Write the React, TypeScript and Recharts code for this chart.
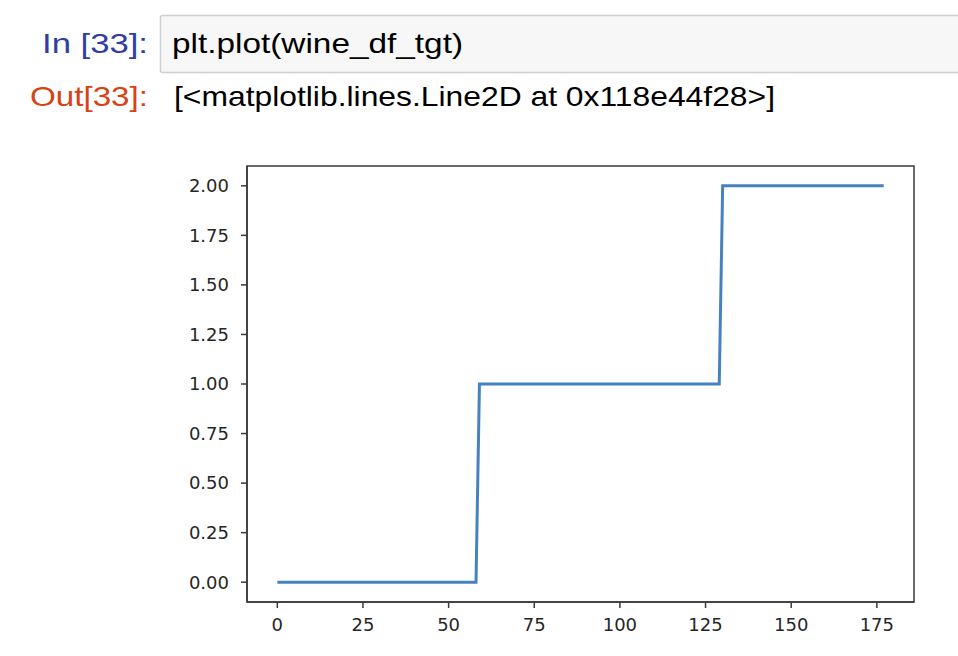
import React from "react";
import { LineChart, Line, XAxis, YAxis, ReferenceArea } from "recharts";

// wine_df_tgt: sample index -> target class (step changes only; straight segments between)
const sampleIndex = [0, 58, 59, 129, 130, 177];
const targetClass = [0, 0, 1, 1, 2, 2];
const xTicks = [0, 25, 50, 75, 100, 125, 150, 175];
const yTicks = [0, 0.25, 0.5, 0.75, 1.0, 1.25, 1.5, 1.75, 2.0];

const inPrompt = "In [33]:";
const inCode = "plt.plot(wine_df_tgt)";
const outPrompt = "Out[33]:";
const outText = "[<matplotlib.lines.Line2D at 0x118e44f28>]";

const data = sampleIndex.map((x, i) => ({ x, y: targetClass[i] }));

const xMin = -8.85;
const xMax = 185.85;
const yMin = -0.1;
const yMax = 2.1;

const FONT = "'Liberation Sans', Arial, sans-serif";
const TICK_FONT = "'DejaVu Sans', sans-serif";

export default function App() {
  return (
    <div
      style={{
        position: "fixed",
        left: 0,
        top: 0,
        width: 958,
        height: 656,
        background: "#ffffff",
        overflow: "hidden",
      }}
    >
      <svg
        width={958}
        height={130}
        style={{ position: "absolute", left: 0, top: 0 }}
      >
        <rect
          x={160.5}
          y={15.5}
          width={820}
          height={57}
          rx={2}
          fill="#f7f7f7"
          stroke="#cfcfcf"
          strokeWidth={1.5}
        />
        <text
          x={148}
          y={53}
          textAnchor="end"
          fontFamily={FONT}
          fontSize={28}
          fill="#303f9f"
          textLength={106}
          lengthAdjust="spacingAndGlyphs"
        >
          {inPrompt}
        </text>
        <text
          x={172}
          y={53}
          fontFamily={FONT}
          fontSize={28}
          fill="#000000"
          textLength={291}
          lengthAdjust="spacingAndGlyphs"
        >
          {inCode}
        </text>
        <text
          x={148}
          y={106}
          textAnchor="end"
          fontFamily={FONT}
          fontSize={28}
          fill="#d84315"
          textLength={118}
          lengthAdjust="spacingAndGlyphs"
        >
          {outPrompt}
        </text>
        <text
          x={174}
          y={106}
          fontFamily={FONT}
          fontSize={28}
          fill="#000000"
          textLength={601}
          lengthAdjust="spacingAndGlyphs"
        >
          {outText}
        </text>
      </svg>
      <div style={{ position: "absolute", left: 0, top: 0 }}>
        <LineChart
          width={958}
          height={656}
          data={data}
          margin={{ top: 166, left: 187, right: 44, bottom: 14 }}
        >
          <XAxis
            dataKey="x"
            type="number"
            domain={[xMin, xMax]}
            ticks={xTicks}
            allowDataOverflow
            height={40}
            tickSize={6}
            tickMargin={10}
            stroke="#3a3a3a"
            strokeWidth={1.5}
            tick={{ fill: "#262626", fontSize: 18, fontFamily: TICK_FONT }}
            interval={0}
          />
          <YAxis
            dataKey="y"
            type="number"
            domain={[yMin, yMax]}
            ticks={yTicks}
            allowDataOverflow
            width={60}
            tickSize={6}
            tickMargin={12}
            stroke="#3a3a3a"
            strokeWidth={1.5}
            tickFormatter={(v: number) => v.toFixed(2)}
            tick={{ fill: "#262626", fontSize: 18, fontFamily: TICK_FONT }}
            interval={0}
          />
          <ReferenceArea
            x1={xMin}
            x2={xMax}
            y1={yMin}
            y2={yMax}
            fill="none"
            fillOpacity={0}
            stroke="#3a3a3a"
            strokeWidth={1.5}
            ifOverflow="visible"
          />
          <Line
            dataKey="y"
            type="linear"
            stroke="#4682c0"
            strokeWidth={3}
            dot={false}
            activeDot={false}
            isAnimationActive={false}
          />
        </LineChart>
      </div>
    </div>
  );
}
